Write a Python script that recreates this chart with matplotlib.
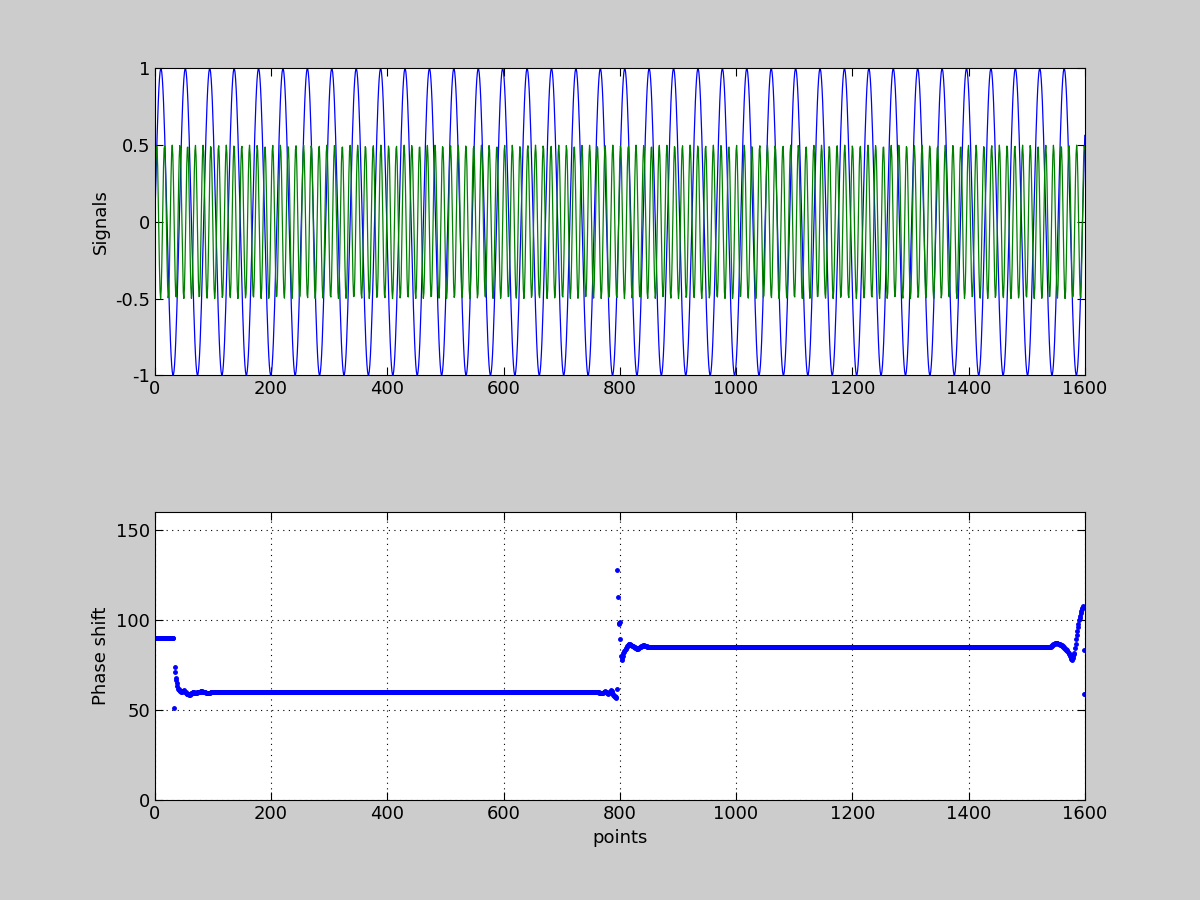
import numpy as np
import matplotlib
matplotlib.use("Agg")
import matplotlib.pyplot as plt

n_points = 1600
blue_amp, blue_period = 1.0, 42.0
green_amp, green_period = 0.5, 13.3

# phase-shift series: (start index, values) segments
phase_key_x = [0, 32, 33, 34, 36, 38, 40, 45, 50, 55, 60, 65, 70, 80, 90, 100, 120, 760, 770, 775, 780, 785, 790, 794, 795, 796, 798, 800, 802, 804, 806, 810, 815, 820, 830, 840, 850, 870, 900, 1530, 1540, 1550, 1560, 1570, 1578, 1582, 1586, 1590, 1594, 1597, 1599]
phase_key_y = [90, 90, 51, 74, 68, 65, 62, 60, 61, 59, 58.5, 60, 59.5, 60.5, 59.5, 60, 60, 60, 59.5, 60.5, 59, 61, 58, 57, 62, 128, 98, 99, 80, 78, 82, 84, 87, 86, 84, 86, 85, 85, 85, 85, 85, 87.5, 86, 83, 78, 82, 92, 100, 105, 108, 59]

x = np.arange(1, n_points + 1)
blue = blue_amp * np.sin(2 * np.pi * x / blue_period)
green = green_amp * np.sin(2 * np.pi * x / green_period)
phase = np.interp(x, phase_key_x, phase_key_y)

fig = plt.figure(figsize=(12, 9), dpi=100, facecolor="#cccccc")
ax1 = fig.add_axes([0.129, 0.583, 0.775, 0.341])
ax1.plot(x, blue, color="blue", lw=0.9)
ax1.plot(x, green, color="green", lw=0.9)
ax1.set_xlim(0, 1600)
ax1.set_ylim(-1, 1)
ax1.set_yticks([-1, -0.5, 0, 0.5, 1])
ax1.set_yticklabels(["-1", "-0.5", "0", "0.5", "1"])
ax1.set_ylabel("Signals", fontsize=13)

ax2 = fig.add_axes([0.129, 0.111, 0.775, 0.32])
ax2.plot(x, phase, ".", color="blue", ms=5)
ax2.set_xlim(0, 1600)
ax2.set_ylim(0, 160)
ax2.set_yticks([0, 50, 100, 150])
ax2.grid(True, color="black", linestyle=(0, (1, 4)), lw=0.8)
ax2.set_ylabel("Phase shift", fontsize=13)
ax2.set_xlabel("points", fontsize=13)

for ax in (ax1, ax2):
    ax.set_xticks(range(0, 1601, 200))
    ax.tick_params(direction="in", labelsize=13, top=True, right=True, length=6)
    for s in ax.spines.values():
        s.set_linewidth(0.8)

fig.savefig("out.png", dpi=100, facecolor=fig.get_facecolor())
